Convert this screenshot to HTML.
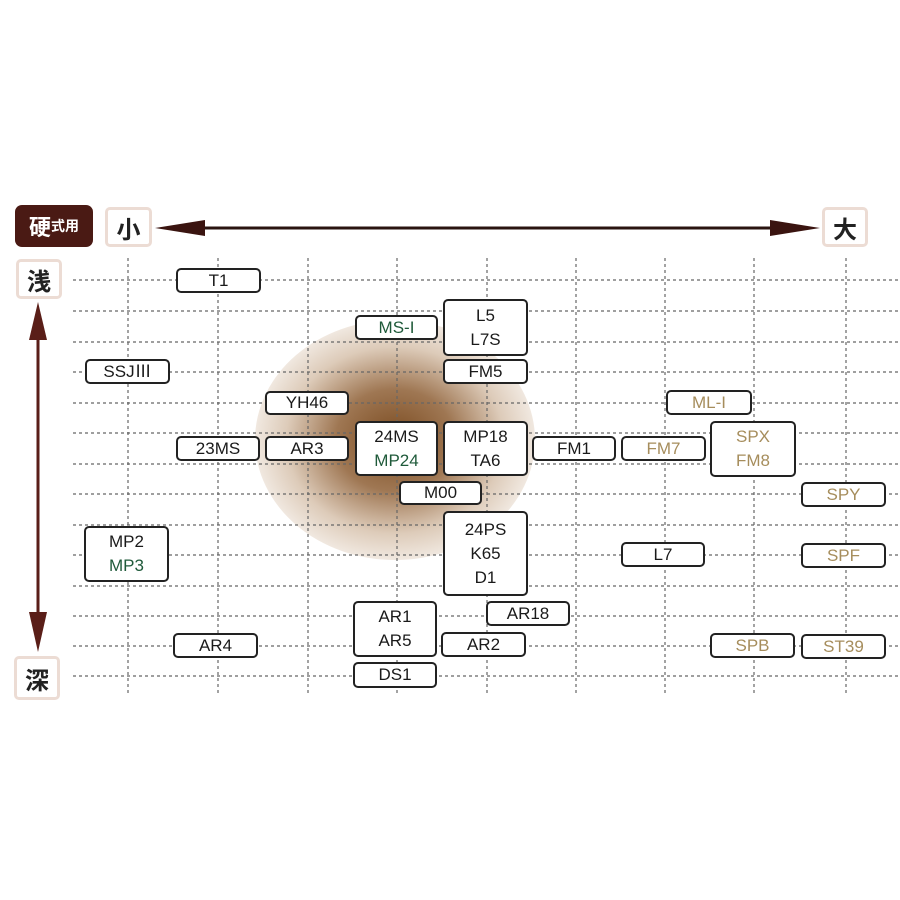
<!DOCTYPE html>
<html><head><meta charset="utf-8"><style>
body{margin:0;width:900px;height:900px;background:#fff;position:relative;overflow:hidden;font-family:"Liberation Sans","Noto Sans CJK JP",sans-serif}
.b{position:absolute;box-sizing:border-box;border:2px solid #222;border-radius:5px;background:#fff;display:flex;flex-direction:column;justify-content:center;align-items:center;text-align:center;font-size:17px;color:#1a1a1a;line-height:24px}
.g{color:#1f5a3a}.y{color:#a68d5c}
.k{position:absolute;box-sizing:border-box;border:3px solid #ecdcd4;border-radius:5px;background:#fff;font-size:24px;font-weight:bold;display:flex;align-items:center;justify-content:center;color:#222}
</style></head><body>
<div style="position:absolute;left:255px;top:320px;width:280px;height:240px;border-radius:50%;background:radial-gradient(ellipse at 50% 50%,rgba(115,65,20,0.95) 0%,rgba(135,85,40,0.8) 30%,rgba(170,125,80,0.4) 55%,rgba(230,210,190,0.12) 80%,rgba(255,255,255,0) 100%)"></div>
<svg width="900" height="900" style="position:absolute;left:0;top:0">
<g stroke="#666" stroke-width="1.2" stroke-dasharray="3,3">
<line x1="73" y1="280" x2="900" y2="280"/><line x1="73" y1="311" x2="900" y2="311"/><line x1="73" y1="342" x2="900" y2="342"/><line x1="73" y1="372" x2="900" y2="372"/><line x1="73" y1="403" x2="900" y2="403"/><line x1="73" y1="433" x2="900" y2="433"/><line x1="73" y1="464" x2="900" y2="464"/><line x1="73" y1="494" x2="900" y2="494"/><line x1="73" y1="525" x2="900" y2="525"/><line x1="73" y1="555" x2="900" y2="555"/><line x1="73" y1="586" x2="900" y2="586"/><line x1="73" y1="616" x2="900" y2="616"/><line x1="73" y1="646" x2="900" y2="646"/><line x1="73" y1="676" x2="900" y2="676"/>
<line x1="128" y1="258" x2="128" y2="693"/><line x1="218" y1="258" x2="218" y2="693"/><line x1="308" y1="258" x2="308" y2="693"/><line x1="397" y1="258" x2="397" y2="693"/><line x1="487" y1="258" x2="487" y2="693"/><line x1="576" y1="258" x2="576" y2="693"/><line x1="665" y1="258" x2="665" y2="693"/><line x1="754" y1="258" x2="754" y2="693"/><line x1="846" y1="258" x2="846" y2="693"/>
</g>
<line x1="195" y1="228" x2="785" y2="228" stroke="#2a1410" stroke-width="3"/>
<polygon points="155,228 205,220 205,236" fill="#3a1410"/>
<polygon points="820,228 770,220 770,236" fill="#3a1410"/>
<line x1="38" y1="330" x2="38" y2="620" stroke="#5a1e18" stroke-width="3"/>
<polygon points="38,302 29,340 47,340" fill="#5a1e18"/>
<polygon points="38,652 29,612 47,612" fill="#5a1e18"/>
</svg>
<div style="position:absolute;left:15px;top:205px;width:78px;height:42px;background:#4a1a14;border-radius:7px;color:#fff;font-weight:bold;display:flex;align-items:center;justify-content:center"><span style="font-size:22px">硬</span><span style="font-size:14px">式用</span></div>
<div class="k" style="left:105px;top:207px;width:47px;height:40px">小</div>
<div class="k" style="left:822px;top:207px;width:46px;height:40px">大</div>
<div class="k" style="left:16px;top:259px;width:46px;height:40px">浅</div>
<div class="k" style="left:14px;top:656px;width:46px;height:44px">深</div>
<div class="b" style="left:176px;top:268px;width:85px;height:25px">T1</div>
<div class="b g" style="left:355px;top:315px;width:83px;height:25px">MS-I</div>
<div class="b" style="left:443px;top:299px;width:85px;height:57px"><span>L5</span><span>L7S</span></div>
<div class="b" style="left:85px;top:359px;width:85px;height:25px">SSJⅢ</div>
<div class="b" style="left:443px;top:359px;width:85px;height:25px">FM5</div>
<div class="b" style="left:265px;top:391px;width:84px;height:24px">YH46</div>
<div class="b y" style="left:666px;top:390px;width:86px;height:25px">ML-I</div>
<div class="b" style="left:176px;top:436px;width:84px;height:25px">23MS</div>
<div class="b" style="left:265px;top:436px;width:84px;height:25px">AR3</div>
<div class="b" style="left:355px;top:421px;width:83px;height:55px"><span>24MS</span><span class="g">MP24</span></div>
<div class="b" style="left:443px;top:421px;width:85px;height:55px"><span>MP18</span><span>TA6</span></div>
<div class="b" style="left:532px;top:436px;width:84px;height:25px">FM1</div>
<div class="b y" style="left:621px;top:436px;width:85px;height:25px">FM7</div>
<div class="b y" style="left:710px;top:421px;width:86px;height:56px"><span>SPX</span><span>FM8</span></div>
<div class="b" style="left:399px;top:481px;width:83px;height:24px">M00</div>
<div class="b y" style="left:801px;top:482px;width:85px;height:25px">SPY</div>
<div class="b" style="left:84px;top:526px;width:85px;height:56px"><span>MP2</span><span class="g">MP3</span></div>
<div class="b" style="left:443px;top:511px;width:85px;height:85px"><span>24PS</span><span>K65</span><span>D1</span></div>
<div class="b" style="left:621px;top:542px;width:84px;height:25px">L7</div>
<div class="b y" style="left:801px;top:543px;width:85px;height:25px">SPF</div>
<div class="b" style="left:353px;top:601px;width:84px;height:56px"><span>AR1</span><span>AR5</span></div>
<div class="b" style="left:486px;top:601px;width:84px;height:25px">AR18</div>
<div class="b" style="left:173px;top:633px;width:85px;height:25px">AR4</div>
<div class="b" style="left:441px;top:632px;width:85px;height:25px">AR2</div>
<div class="b y" style="left:710px;top:633px;width:85px;height:25px">SPB</div>
<div class="b y" style="left:801px;top:634px;width:85px;height:25px">ST39</div>
<div class="b" style="left:353px;top:662px;width:84px;height:26px">DS1</div>
</body></html>
